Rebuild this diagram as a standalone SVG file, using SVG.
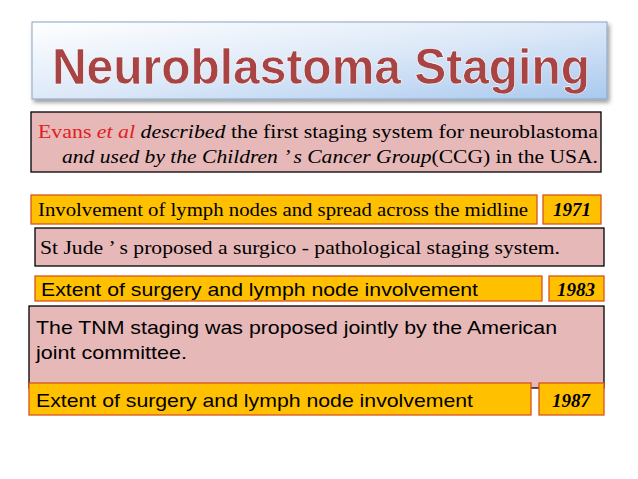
<svg xmlns="http://www.w3.org/2000/svg" width="638" height="479" viewBox="0 0 638 479">
<defs>
<linearGradient id="tg" x1="0" y1="0" x2="1" y2="1"><stop offset="0" stop-color="#ffffff"/><stop offset="0.5" stop-color="#dde9f8"/><stop offset="1" stop-color="#a9c9ef"/></linearGradient>
<filter id="sh" x="-5%" y="-10%" width="115%" height="130%"><feDropShadow dx="2" dy="3" stdDeviation="2" flood-color="#000" flood-opacity="0.4"/></filter>
</defs>
<style>
.pink{fill:#e6b8b8;stroke:#000;stroke-width:1.3}
.org{fill:#ffc000;stroke:#d9541e;stroke-width:1.3}
.tr{font-family:"Liberation Serif",serif;font-size:19px;fill:#000}
.ts{font-family:"Liberation Sans",sans-serif;font-size:19px;fill:#000}
.yr{font-family:"Liberation Serif",serif;font-size:19px;font-weight:bold;font-style:italic;fill:#000}
</style>
<rect width="638" height="479" fill="#fff"/>
<g id="title"><rect x="32" y="22" width="575" height="77" fill="url(#tg)" stroke="#8aa3bf" filter="url(#sh)"/>
<text x="52" y="84" textLength="538" lengthAdjust="spacingAndGlyphs" font-family="Liberation Sans,sans-serif" font-weight="bold" font-size="50" fill="#a84444" stroke="#fff" stroke-width="0.6">Neuroblastoma Staging</text></g>
<g id="evans"><rect class="pink" x="31" y="112" width="570" height="60"/>
<text class="tr" x="38" y="138" textLength="560" lengthAdjust="spacingAndGlyphs"><tspan fill="#e02020">Evans <tspan font-style="italic">et al</tspan></tspan><tspan font-style="italic">  described</tspan>  the first staging system for neuroblastoma</text>
<text class="tr" x="62" y="163" textLength="536" lengthAdjust="spacingAndGlyphs"><tspan font-style="italic">and used by the Children ’ s Cancer Group</tspan>(CCG) in the USA.</text></g>
<g id="r1971"><rect class="org" x="31" y="195" width="506" height="29"/><text class="tr" x="38" y="216" textLength="490" lengthAdjust="spacingAndGlyphs">Involvement of lymph nodes and spread across the midline</text>
<rect class="org" x="543" y="195" width="58" height="29"/><text class="yr" x="572" y="216" text-anchor="middle">1971</text></g>
<g id="stjude"><rect class="pink" x="35" y="228" width="569" height="38"/><text class="tr" x="40" y="254" textLength="520" lengthAdjust="spacingAndGlyphs">St Jude ’ s proposed a surgico - pathological staging system.</text></g>
<g id="r1983"><rect class="org" x="35" y="276" width="507" height="25"/><text class="ts" x="41" y="296" textLength="437" lengthAdjust="spacingAndGlyphs">Extent of surgery and lymph node involvement</text>
<rect class="org" x="549" y="276" width="55" height="25"/><text class="yr" x="576" y="296" text-anchor="middle">1983</text></g>
<g id="tnm"><rect class="pink" x="29" y="306" width="575" height="82"/><text class="ts" x="36" y="334" textLength="521" lengthAdjust="spacingAndGlyphs">The TNM staging was proposed jointly by the American</text><text class="ts" x="36" y="359" textLength="151" lengthAdjust="spacingAndGlyphs">joint committee.</text></g>
<g id="r1987"><rect class="org" x="29" y="383" width="502" height="32"/><text class="ts" x="36" y="407" textLength="437" lengthAdjust="spacingAndGlyphs">Extent of surgery and lymph node involvement</text>
<rect class="org" x="539" y="383" width="65" height="32"/><text class="yr" x="571" y="407" text-anchor="middle">1987</text></g>
<g id="connectors"/>
</svg>
